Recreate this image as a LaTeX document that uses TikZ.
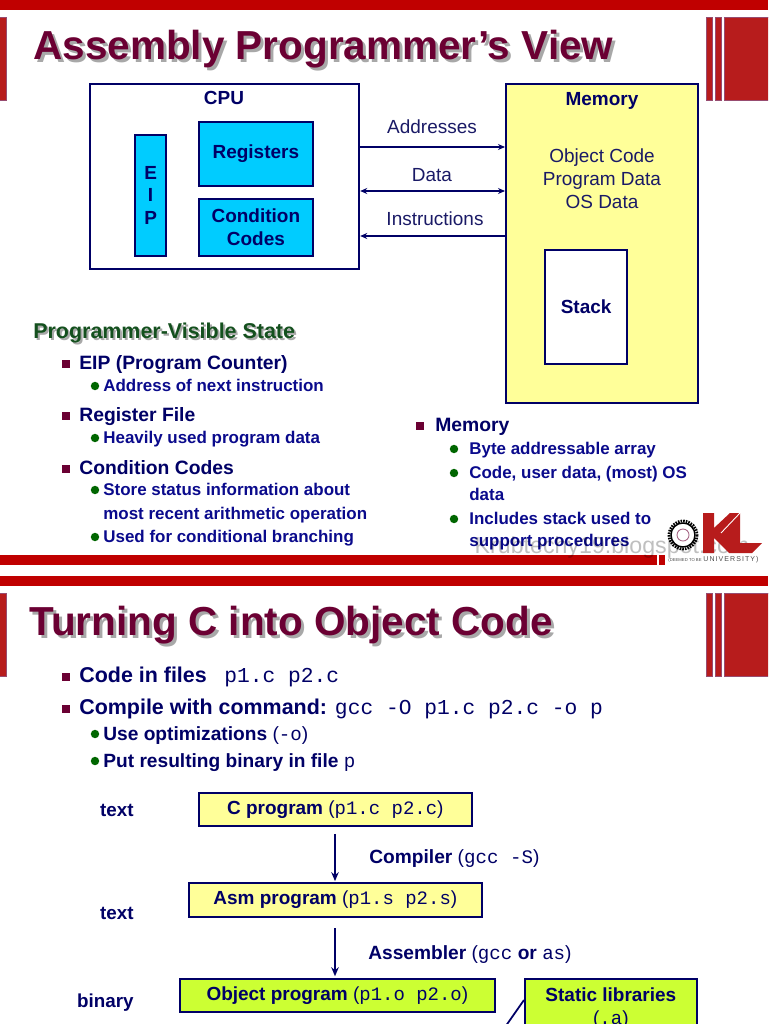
\documentclass[tikz,border=0pt]{standalone}
\usepackage{fontspec}
\setmainfont{Liberation Sans}
\setmonofont{Liberation Mono}
\usetikzlibrary{arrows.meta, positioning, shapes.geometric}
\definecolor{barred}{HTML}{C00000}
\definecolor{decored}{HTML}{B71C1C}
\definecolor{titlemaroon}{HTML}{6B0033}
\definecolor{shadowgrey}{HTML}{A8A8A8}
\definecolor{headgreen}{HTML}{14501E}
\definecolor{inkblue}{HTML}{000066}
\definecolor{subblue}{HTML}{0A0A8C}
\definecolor{plainblue}{HTML}{1A1A66}
\definecolor{boxcyan}{HTML}{00CCFF}
\definecolor{boxyellow}{HTML}{FFFF99}
\definecolor{boxlime}{HTML}{CCFF33}
\definecolor{dotgreen}{HTML}{006600}
\newcommand{\codeparen}[1]{{\mdseries(\texttt{#1})}}

\begin{document}
\begin{tikzpicture}[
    x=0.02cm, y=-0.02cm,
    % Slide furniture
    band/.style={fill=barred, draw=none},
    decobar/.style={fill=decored, draw=titlemaroon!70, line width=0.3pt},
    slidetitle/.style={anchor=west, inner sep=0pt, text=titlemaroon, font=\fontsize{23.05}{26}\selectfont\bfseries},
    titleshade/.style={slidetitle, text=shadowgrey},
    subhead/.style={anchor=west, inner sep=0pt, text=headgreen, font=\fontsize{12.2}{14}\selectfont\bfseries},
    subshade/.style={subhead, text=shadowgrey},
    % Boxes
    framebox/.style={rectangle, anchor=north west, draw=inkblue, line width=1pt, inner sep=0pt, align=center, text=inkblue, font=\fontsize{10.8}{13}\selectfont\bfseries},
    cpubox/.style={framebox, fill=white, minimum width=5.39cm, minimum height=3.7cm},
    cyanbox/.style={framebox, fill=boxcyan},
    membox/.style={framebox, fill=boxyellow, minimum width=3.84cm, minimum height=6.38cm},
    stackbox/.style={framebox, fill=white, minimum width=1.65cm, minimum height=2.29cm},
    stagebox/.style={framebox, fill=boxyellow, minimum height=0.66cm},
    libbox/.style={framebox, fill=boxlime},
    % Text
    boxtitle/.style={inner sep=0pt, text=inkblue, font=\fontsize{10.8}{13}\selectfont\bfseries},
    plainlabel/.style={inner sep=0pt, align=center, text=plainblue, font=\fontsize{10.8}{13}\selectfont},
    itemsq/.style={rectangle, fill=titlemaroon, inner sep=0pt, minimum size=4.4pt},
    itemdot/.style={circle, fill=dotgreen, inner sep=0pt, minimum size=4.8pt},
    itemtext/.style={anchor=west, inner sep=0pt, text height=8pt, text depth=2pt, text=inkblue, font=\fontsize{11}{13}\selectfont\bfseries},
    flowtext/.style={itemtext, font=\fontsize{10.9}{13}\selectfont\bfseries},
    bigtext/.style={itemtext, font=\fontsize{12.2}{14}\selectfont\bfseries},
    subtext/.style={anchor=west, inner sep=0pt, text height=7pt, text depth=2pt, text=subblue, font=\fontsize{9.65}{11}\selectfont\bfseries},
    sidelabel/.style={anchor=east, inner sep=0pt, text=inkblue, font=\fontsize{10.7}{13}\selectfont\bfseries},
    % Arrow styles
    buslink/.style={line width=1pt, draw=inkblue},
    flowarrow/.style={-{Stealth[length=1.8mm, width=1.5mm]}, line width=1.1pt, draw=inkblue},
]
\useasboundingbox (0,0) rectangle (768,1024);
\clip (0,0) rectangle (768,1024);

% ============================================================================
% SLIDE FURNITURE
% ============================================================================
\fill[white] (0,0) rectangle (768,1024);
\fill[band] (0,0) rectangle (768,10);
\fill[band] (0,555) rectangle (657,565);
\fill[band] (659,555) rectangle (665,565);
\fill[band] (0,576) rectangle (768,586);

\draw[decobar] (-2,17) rectangle (6,100);
\draw[decobar] (706,17) rectangle (712,100);
\draw[decobar] (715,17) rectangle (721,100);
\draw[decobar] (724,17) rectangle (770,100);

\draw[decobar] (-2,593) rectangle (6,676);
\draw[decobar] (706,593) rectangle (712,676);
\draw[decobar] (715,593) rectangle (721,676);
\draw[decobar] (724,593) rectangle (770,676);

% ============================================================================
% FIRST SLIDE: CPU AND MEMORY
% ============================================================================
\node[titleshade] (viewshade) at (36,52) {Assembly Programmer’s View};
\node[slidetitle] (viewtitle) at (33,49) {Assembly Programmer’s View};

\node[cpubox] (cpu) at (89,83) {};
\node[boxtitle] (cputitle) at (224,98) {CPU};
\node[cyanbox, minimum width=0.63cm, minimum height=2.42cm] (eip) at (134,134) {E\\I\\P};
\node[cyanbox, minimum width=2.28cm, minimum height=1.28cm] (regs) at (198,121) {Registers};
\node[cyanbox, minimum width=2.28cm, minimum height=1.14cm] (codes) at (198,198) {Condition\\Codes};

\node[membox] (memory) at (505,83) {};
\node[boxtitle] (memtitle) at (602,101) {Memory};
\node[plainlabel] (memparts) at (602,179) {Object Code\\Program Data\\OS Data};
\node[stackbox] (stack) at (544,249) {Stack};

% Bus levels between the two big boxes
\coordinate (addrlevel) at (430,147);
\coordinate (datalevel) at (430,191);
\coordinate (instrlevel) at (430,236);

\draw[buslink, -{Stealth[length=1.4mm, width=1.2mm]}] (addrlevel -| cpu.east) -- (addrlevel -| memory.west);
\draw[buslink, {Stealth[length=1.4mm, width=1.2mm]}-{Stealth[length=1.4mm, width=1.2mm]}] (datalevel -| cpu.east) -- (datalevel -| memory.west);
\draw[buslink, -{Stealth[length=1.4mm, width=1.2mm]}] (instrlevel -| memory.west) -- (instrlevel -| cpu.east);

\node[plainlabel] (addrlabel) at (432,127) {Addresses};
\node[plainlabel] (datalabel) at (432,175) {Data};
\node[plainlabel] (instrlabel) at (435,219) {Instructions};

% ============================================================================
% FIRST SLIDE: STATE LISTS
% ============================================================================
\node[subshade] (stateshade) at (35,335) {Programmer-Visible State};
\node[subhead] (statehead) at (33,333) {Programmer-Visible State};

\node[itemsq] (sqeip) at (66,364) {};
\node[itemtext] (txteip) at (79,364) {EIP (Program Counter)};
\node[itemdot] (dotaddr) at (95,386) {};
\node[subtext] (txtaddr) at (103,387) {Address of next instruction};

\node[itemsq] (sqfile) at (66,416) {};
\node[itemtext] (txtfile) at (79,416) {Register File};
\node[itemdot] (dotheavy) at (95,438) {};
\node[subtext] (txtheavy) at (103,439) {Heavily used program data};

\node[itemsq] (sqcond) at (66,469) {};
\node[itemtext] (txtcond) at (79,469) {Condition Codes};
\node[itemdot] (dotstore) at (95,490) {};
\node[subtext] (txtstore) at (103,491) {Store status information about};
\node[subtext] (txtrecent) at (103,515) {most recent arithmetic operation};
\node[itemdot] (dotused) at (95,537) {};
\node[subtext] (txtused) at (103,538) {Used for conditional branching};

\node[itemsq] (sqmem) at (420,426) {};
\node[itemtext] (txtmem) at (435,426) {Memory};
\node[itemdot] (dotbyte) at (454,449) {};
\node[subtext] (txtbyte) at (469,450) {Byte addressable array};
\node[itemdot] (dotcode) at (454,473) {};
\node[subtext] (txtcode) at (469,474) {Code, user data, (most) OS};
\node[subtext] (txtdata) at (469,496) {data};
\node[itemdot] (dotincl) at (454,519) {};
\node[subtext] (txtincl) at (469,520) {Includes stack used to};
\node[subtext] (txtsupp) at (469,542) {support procedures};

% ============================================================================
% LOGO AND WATERMARK
% ============================================================================
\node[inner sep=0pt, text=black, opacity=0.25, font=\fontsize{13.2}{15}\selectfont] (watermark) at (612,547) {Krubtechy19.blogspot.com};

\draw[black, line width=1.6pt, dash pattern=on 0.9pt off 0.6pt] (683,535) circle (14);
\draw[black, fill=white, line width=0.8pt] (683,535) circle (12);
\draw[titlemaroon!60, line width=0.5pt] (683,535) circle (6);
\fill[decored] (703,513) -- (714,513) -- (714,528) -- (730,513) -- (740,513) -- (740,543) -- (762,543) -- (752,553) -- (729,553) -- (714,538) -- (714,553) -- (703,553) -- cycle;
\draw[white, line width=0.5pt] (740,513) -- (721,533);
\node[inner sep=0pt, text=black!70, font=\fontsize{4}{5}\selectfont] (kluni) at (731,560) {U\hspace{0.6pt}N\hspace{0.6pt}I\hspace{0.6pt}V\hspace{0.6pt}E\hspace{0.6pt}R\hspace{0.6pt}S\hspace{0.6pt}I\hspace{0.6pt}T\hspace{0.6pt}Y\hspace{0.6pt})};
\node[inner sep=0pt, text=black!70, font=\fontsize{2.4}{3}\selectfont] (kldeemed) at (685,560) {(DEEMED TO BE};

% ============================================================================
% SECOND SLIDE: HEADER AND BULLETS
% ============================================================================
\node[titleshade] (turnshade) at (32,628) {Turning C into Object Code};
\node[slidetitle] (turntitle) at (29,625) {Turning C into Object Code};

\node[itemsq] (sqfiles) at (66,677) {};
\node[bigtext] (txtfiles) at (79,677) {Code in files\hspace{10pt}{\ttfamily\mdseries\fontsize{12.1}{14}\selectfont p1.c p2.c}};
\node[itemsq] (sqcomp) at (66,709) {};
\node[bigtext] (txtcomp) at (79,709) {Compile with command: {\ttfamily\mdseries\fontsize{12.1}{14}\selectfont gcc -O p1.c p2.c -o p}};
\node[itemdot] (dotopt) at (95,734) {};
\node[flowtext] (txtopt) at (103,735) {Use optimizations \codeparen{-o}};
\node[itemdot] (dotput) at (95,761) {};
\node[flowtext] (txtput) at (103,762) {Put resulting binary in file {\ttfamily\mdseries p}};

% ============================================================================
% SECOND SLIDE: BUILD CHAIN
% ============================================================================
\node[stagebox, minimum width=5.46cm] (cprog) at (198,792) {C program \codeparen{p1.c p2.c}};
\node[stagebox, minimum width=5.86cm, minimum height=0.68cm] (asmprog) at (188,882) {Asm program \codeparen{p1.s p2.s}};
\node[stagebox, fill=boxlime, minimum width=6.3cm] (objprog) at (179,978) {Object program \codeparen{p1.o p2.o}};
\node[libbox, minimum width=3.44cm, minimum height=1.16cm] (statlib) at (524,978) {Static libraries\\\codeparen{.a}};

\node[sidelabel] (lbltext) at (134,810) {text};
\node[sidelabel] (lblasm) at (134,913) {text};
\node[sidelabel] (lblbin) at (134,1003) {binary};

\draw[flowarrow, shorten <=4pt, shorten >=0.5pt] (cprog.south -| 335,0) -- (asmprog.north -| 335,0);
\draw[flowarrow, shorten <=6pt, shorten >=1pt] (asmprog.south -| 335,0) -- (objprog.north -| 335,0);

\node[flowtext] (lblcomp) at (369,858) {Compiler \codeparen{gcc -S}};
\node[flowtext] (lblasmb) at (368,954) {Assembler {\mdseries(\texttt{gcc} \textbf{or} \texttt{as})}};

% Link continues past the page edge
\coordinate (linkend) at (503,1030);
\draw[buslink] (statlib.west |- 0,1000) -- (linkend);

\end{tikzpicture}
\end{document}
